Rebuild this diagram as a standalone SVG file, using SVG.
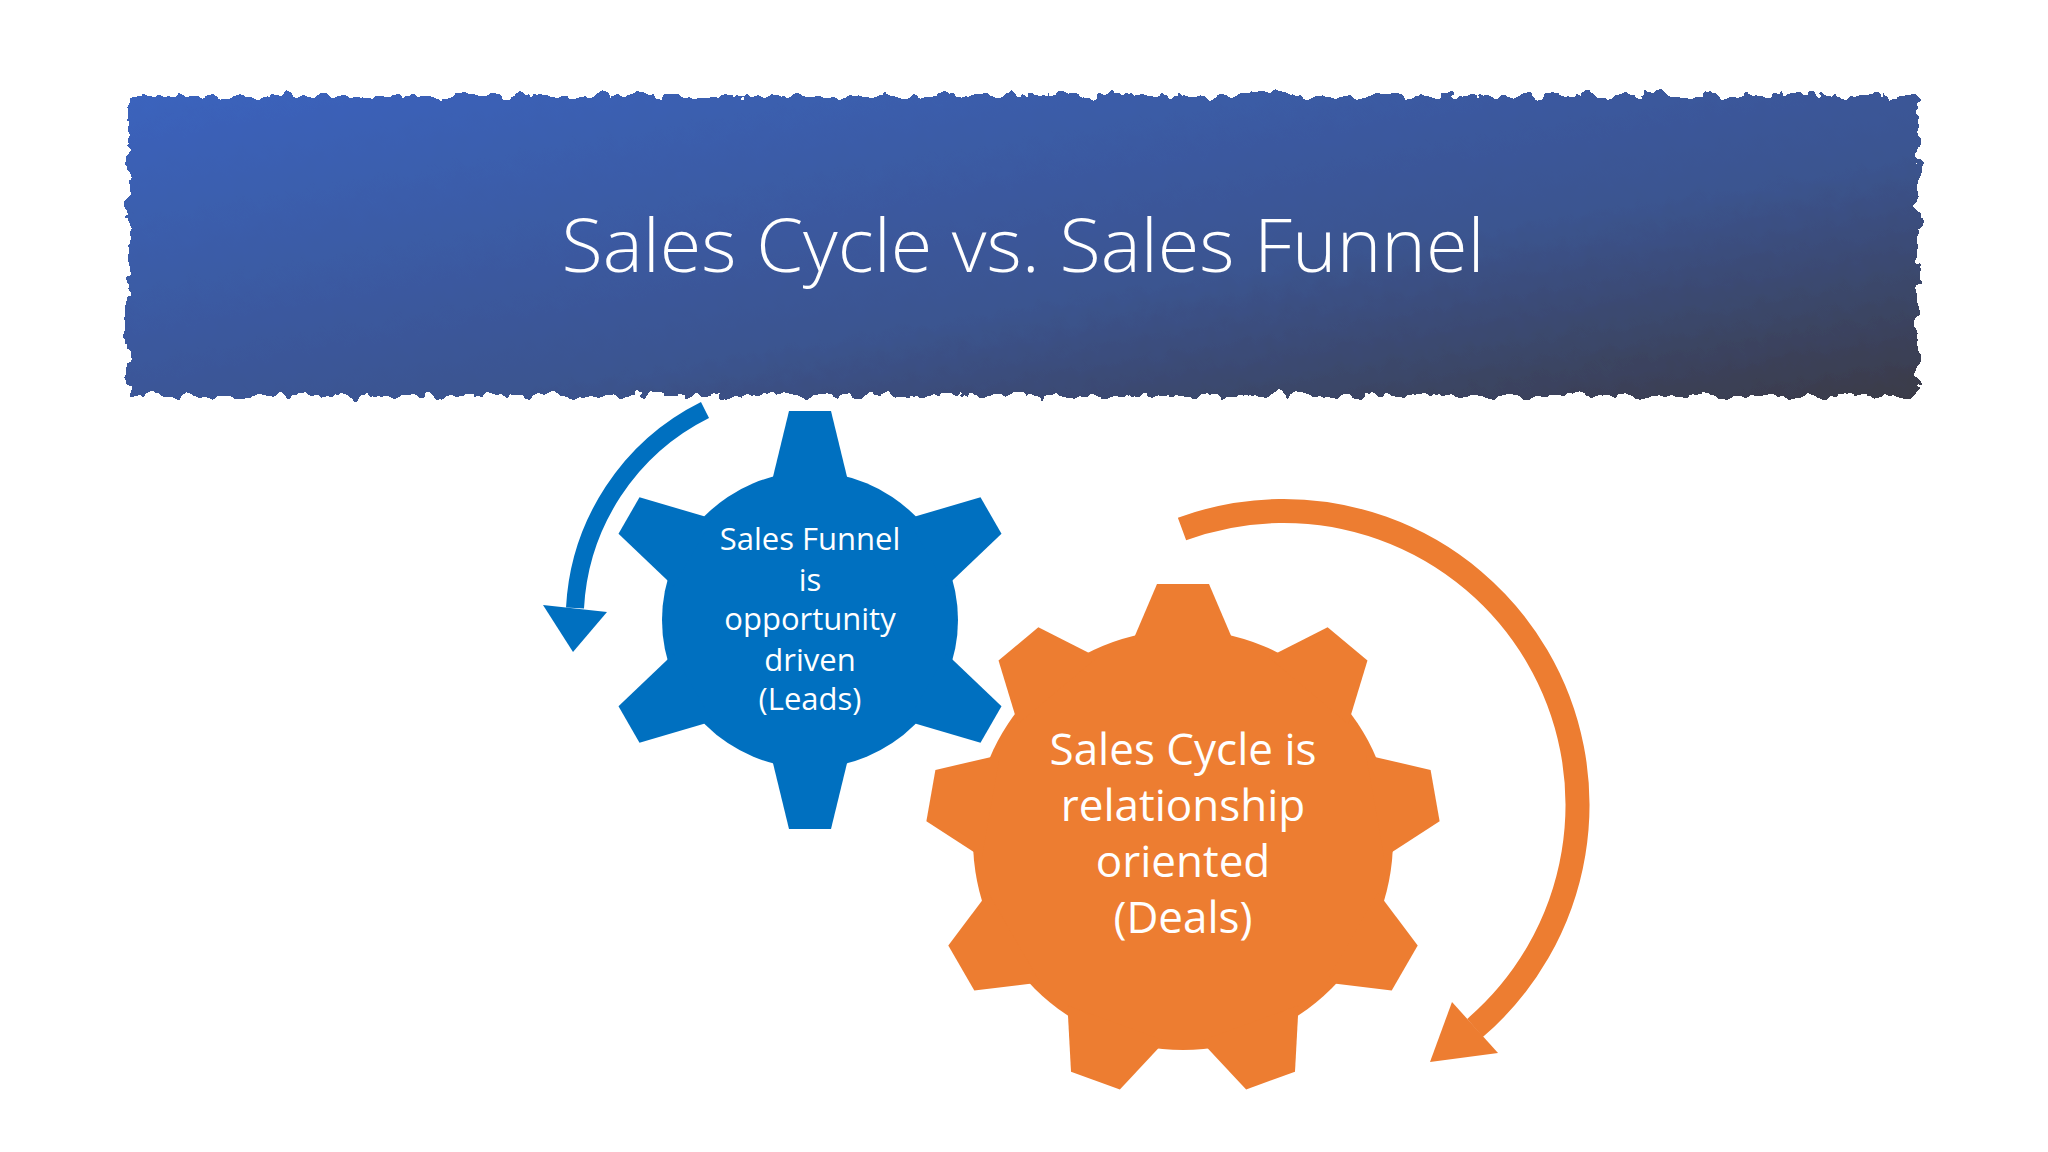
<svg xmlns="http://www.w3.org/2000/svg" width="2048" height="1152" viewBox="0 0 2048 1152">
<defs>
<linearGradient id="bg" x1="0" y1="0" x2="1" y2="1">
<stop offset="0" stop-color="#3a63bd"/><stop offset="0.6" stop-color="#3a5490"/><stop offset="1" stop-color="#3b3b48"/>
</linearGradient>
<filter id="rough" x="-5%" y="-20%" width="110%" height="140%">
<feTurbulence type="fractalNoise" baseFrequency="0.06" numOctaves="3" seed="3"/>
<feDisplacementMap in="SourceGraphic" scale="18"/>
</filter>
<polygon id="bt" points="-39,-135 39,-135 21,-209 -21,-209"/>
<polygon id="ot" points="-52,-195 52,-195 26,-256 -26,-256"/>
</defs>
<style>
.t{font-family:"Open Sans","Liberation Sans",sans-serif;fill:#fff;text-anchor:middle}
</style>
<rect width="2048" height="1152" fill="#fff"/>
<g id="banner">
<rect x="128" y="96" width="1790" height="300" fill="url(#bg)" filter="url(#rough)"/>
<text class="t" x="1023" y="272" font-size="74" font-weight="300" textLength="923" lengthAdjust="spacingAndGlyphs">Sales Cycle vs. Sales Funnel</text>
</g>
<g id="connectors">
<path d="M705,410 A235,235 0 0 0 575,608" fill="none" stroke="#0070c0" stroke-width="18"/>
<polygon points="543,605 607,612 573,652" fill="#0070c0"/>
<path d="M1182,529 A294,294 0 0 1 1475,1028" fill="none" stroke="#ed7d31" stroke-width="24"/>
<polygon points="1498,1053 1452,1002 1430,1062" fill="#ed7d31"/>
</g>
<g id="gear-funnel" fill="#0070c0">
<circle cx="810" cy="620" r="148"/>
<g transform="translate(810,620)">
<use href="#bt"/><use href="#bt" transform="rotate(60)"/><use href="#bt" transform="rotate(120)"/>
<use href="#bt" transform="rotate(180)"/><use href="#bt" transform="rotate(240)"/><use href="#bt" transform="rotate(300)"/>
</g>
<text class="t" font-size="31"><tspan x="810" y="550">Sales Funnel</tspan><tspan x="810" y="591">is</tspan><tspan x="810" y="630">opportunity</tspan><tspan x="810" y="671">driven</tspan><tspan x="810" y="710">(Leads)</tspan></text>
</g>
<g id="gear-cycle" fill="#ed7d31">
<circle cx="1183" cy="840" r="210"/>
<g transform="translate(1183,840)">
<use href="#ot"/><use href="#ot" transform="rotate(40)"/><use href="#ot" transform="rotate(80)"/>
<use href="#ot" transform="rotate(120)"/><use href="#ot" transform="rotate(160)"/><use href="#ot" transform="rotate(200)"/>
<use href="#ot" transform="rotate(240)"/><use href="#ot" transform="rotate(280)"/><use href="#ot" transform="rotate(320)"/>
</g>
<text class="t" font-size="44"><tspan x="1183" y="765">Sales Cycle is</tspan><tspan x="1183" y="821">relationship</tspan><tspan x="1183" y="877">oriented</tspan><tspan x="1183" y="933">(Deals)</tspan></text>
</g>
</svg>
